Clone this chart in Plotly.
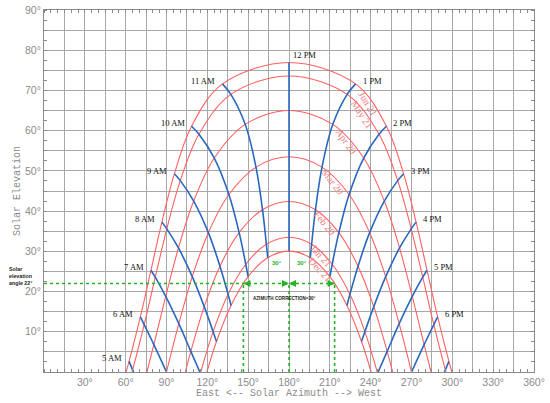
import plotly.graph_objects as go

N = None

# ---------------- data ----------------
DATES = ["Jun 21", "May 21", "Apr 20", "Mar 20", "Feb 20", "Jan 21", "Dec 21"]
HOURS = ["5 AM", "6 AM", "7 AM", "8 AM", "9 AM", "10 AM", "11 AM", "12 PM",
         "1 PM", "2 PM", "3 PM", "4 PM", "5 PM", "6 PM", "7 PM"]
HOUR_LABELED = [True, True, True, True, True, True, True, True,
                True, True, True, True, True, True, False]

# solar azimuth / elevation (degrees) at each hour, per date
AZ_JUN = [62.51, 70.78, 78.60, 86.61, 95.81, 108.41, 131.10, 180.00, 228.90, 251.59, 264.19, 273.39, 281.40, 289.22, 297.49]
EL_JUN = [2.63, 13.69, 25.31, 37.26, 49.30, 61.09, 71.64, 76.95, 71.64, 61.09, 49.30, 37.26, 25.31, 13.69, 2.63]
AZ_MAY = [65.11, 73.61, 81.74, 90.21, 100.14, 113.84, 137.29, 180.00, 222.71, 246.16, 259.86, 269.79, 278.26, 286.39, 294.89]
EL_MAY = [0.52, 11.80, 23.57, 35.58, 47.58, 59.12, 69.03, 73.60, 69.03, 59.12, 47.58, 35.58, 23.57, 11.80, 0.52]
AZ_APR = [N, 80.71, 89.43, 98.79, 109.98, 125.11, 147.81, 180.00, 212.19, 234.89, 250.02, 261.21, 270.57, 279.29, N]
EL_APR = [N, 6.81, 18.81, 30.83, 42.50, 53.20, 61.57, 65.00, 61.57, 53.20, 42.50, 30.83, 18.81, 6.81, N]
AZ_MAR = [N, 90.00, 99.06, 108.95, 120.75, 135.85, 155.74, 180.00, 204.26, 224.15, 239.25, 251.05, 260.94, 270.00, N]
EL_MAR = [N, 0.00, 12.01, 23.70, 34.64, 44.12, 50.94, 53.50, 50.94, 44.12, 34.64, 23.70, 12.01, 0.00, N]
AZ_FEB = [N, N, 107.88, 117.72, 129.28, 143.38, 160.54, 180.00, 199.46, 216.62, 230.72, 242.28, 252.12, N, N]
EL_FEB = [N, N, 5.14, 16.25, 26.31, 34.65, 40.35, 42.40, 40.35, 34.65, 26.31, 16.25, 5.14, N, N]
AZ_JAN = [N, N, N, 124.26, 135.24, 148.25, 163.39, 180.00, 196.61, 211.75, 224.76, 235.74, N, N, N]
EL_JAN = [N, N, N, 10.03, 19.31, 26.79, 31.75, 33.50, 31.75, 26.79, 19.31, 10.03, N, N, N]
AZ_DEC = [N, N, N, 126.72, 137.41, 149.94, 164.35, 180.00, 195.65, 210.06, 222.59, 233.28, N, N, N]
EL_DEC = [N, N, N, 7.59, 16.54, 23.70, 28.40, 30.05, 28.40, 23.70, 16.54, 7.59, N, N, N]

SUNRISE_AZ = [60.33, 64.69, 75.64, 90.00, 103.86, 115.18, 119.67]
SUNSET_AZ = [299.67, 295.31, 284.36, 270.00, 256.14, 244.82, 240.33]
HORIZON_EL = 0.0
# where an hour line meets the horizon (after its last date above it)
HOUR_HORIZON_AZ = [65.7, N, 114.5, N, N, N, N, N, N, N, N, N, 245.5, N, 294.3]

# date labels along the curves
DATE_LABEL_AZ = [238.0, 233.4, 222.0, 211.8, 206.5, 203.3, 202.8]
DATE_LABEL_EL = [66.8, 63.9, 57.3, 47.3, 37.0, 28.9, 25.5]
DATE_LABEL_ANGLE = [59, 58, 55, 52, 50, 48, 47]

# azimuth-correction illustration
MARK_EL = 22.0
MARK_AZ = [146.5, 180.0, 213.5]
CORR_LABEL = ["30°", "30°"]
CORR_LABEL_AZ = [171.4, 189.3]
CORR_LABEL_EL = 27.0

# axes ticks
X_TICKS = [0, 15, 30, 45, 60, 75, 90, 105, 120, 135, 150, 165, 180, 195, 210,
           225, 240, 255, 270, 285, 300, 315, 330, 345, 360]
X_TICK_TEXT = ["", "", "30°", "", "60°", "", "90°", "", "120°", "", "150°", "", "180°", "",
               "210°", "", "240°", "", "270°", "", "300°", "", "330°", "", "360°"]
Y_TICKS = [0, 5, 10, 15, 20, 25, 30, 35, 40, 45, 50, 55, 60, 65, 70, 75, 80, 85, 90]
Y_TICK_TEXT = ["", "", "10°", "", "20°", "", "30°", "", "40°", "", "50°", "", "60°", "",
               "70°", "", "80°", "", "90°"]

# ---------------- styles ----------------
RED = "#ff6060"
DATE_TXT = "#f07c7c"
BLUE = "#2a68c0"
GREEN = "#22b422"
GRID = "#a8a8a8"
FRAME = "#8a8a8a"
TICK_TXT = "#8c8c8c"

DATE_AZ = [AZ_JUN, AZ_MAY, AZ_APR, AZ_MAR, AZ_FEB, AZ_JAN, AZ_DEC]
DATE_EL = [EL_JUN, EL_MAY, EL_APR, EL_MAR, EL_FEB, EL_JAN, EL_DEC]

fig = go.Figure()

# red daily sun paths
for i, d in enumerate(DATES):
    xs = [SUNRISE_AZ[i]]
    ys = [HORIZON_EL]
    for a, e in zip(DATE_AZ[i], DATE_EL[i]):
        if a is not None and e > HORIZON_EL:
            xs.append(a)
            ys.append(e)
    xs.append(SUNSET_AZ[i])
    ys.append(HORIZON_EL)
    fig.add_trace(go.Scatter(x=xs, y=ys, mode="lines", name=d,
                             line=dict(color=RED, width=1.1, shape="spline", smoothing=1.0),
                             hoverinfo="skip"))

annotations = []

# blue hour lines
for j, h in enumerate(HOURS):
    xs, ys = [], []
    for i in range(len(DATES)):
        a, e = DATE_AZ[i][j], DATE_EL[i][j]
        if a is not None:
            xs.append(a)
            ys.append(e)
    if HOUR_HORIZON_AZ[j] is not None:
        xs.append(HOUR_HORIZON_AZ[j])
        ys.append(HORIZON_EL)
    fig.add_trace(go.Scatter(x=xs, y=ys, mode="lines", name=h,
                             line=dict(color=BLUE, width=1.6, shape="spline", smoothing=1.0),
                             hoverinfo="skip"))
    if HOUR_LABELED[j]:
        if h.startswith("12"):
            xa, xsft, ysft = "left", 2, 7
        elif "AM" in h:
            xa, xsft, ysft = "right", -5, 3
        else:
            xa, xsft, ysft = "left", 5, 3
        annotations.append(dict(x=xs[0], y=ys[0], xref="x", yref="y", text=h,
                                showarrow=False, xanchor=xa, yanchor="middle",
                                xshift=xsft, yshift=ysft,
                                font=dict(family="Liberation Serif", size=8.5, color="#111111")))

# date labels
for i, d in enumerate(DATES):
    annotations.append(dict(x=DATE_LABEL_AZ[i], y=DATE_LABEL_EL[i], xref="x", yref="y",
                            text=d, showarrow=False, textangle=DATE_LABEL_ANGLE[i],
                            xanchor="center", yanchor="middle",
                            font=dict(family="Liberation Serif", size=10, color=DATE_TXT)))

# green dotted guide lines
shapes = [dict(type="line", xref="x", yref="y", x0=0, x1=MARK_AZ[-1], y0=MARK_EL, y1=MARK_EL,
               line=dict(color=GREEN, width=1.6, dash="dot"), layer="above")]
for a in MARK_AZ:
    shapes.append(dict(type="line", xref="x", yref="y", x0=a, x1=a, y0=HORIZON_EL, y1=MARK_EL,
                       line=dict(color=GREEN, width=1.6, dash="dot"), layer="above"))

# arrowheads
for k in range(len(MARK_AZ) - 1):
    for tip, tail in ((MARK_AZ[k], 9), (MARK_AZ[k + 1], -9)):
        annotations.append(dict(x=tip, y=MARK_EL, xref="x", yref="y", ax=tail, ay=0,
                                axref="pixel", ayref="pixel", text="", showarrow=True,
                                arrowhead=2, arrowsize=1, arrowwidth=1.4, arrowcolor=GREEN,
                                standoff=0))

for t, a in zip(CORR_LABEL, CORR_LABEL_AZ):
    annotations.append(dict(x=a, y=CORR_LABEL_EL, xref="x", yref="y", text="<b>" + t + "</b>",
                            showarrow=False, font=dict(family="Liberation Sans", size=6, color=GREEN)))

annotations.append(dict(x=(MARK_AZ[0] + MARK_AZ[-1]) / 2 - 3.4, y=18.2, xref="x", yref="y",
                        text="<b>AZIMUTH CORRECTION=30°</b>", showarrow=False,
                        font=dict(family="Liberation Sans", size=4.6, color="#222222")))

annotations.append(dict(x=-0.0755, y=MARK_EL + 1.9, xref="paper", yref="y",
                        text="<b>Solar<br>elevation<br>angle 22°</b>", showarrow=False,
                        xanchor="left", yanchor="middle", align="left",
                        font=dict(family="Liberation Sans", size=5.3, color="#222222")))

fig.update_layout(
    width=550, height=403,
    margin=dict(l=44, r=16, t=10, b=31),
    paper_bgcolor="white", plot_bgcolor="white",
    showlegend=False,
    annotations=annotations, shapes=shapes,
)

fig.update_xaxes(
    range=[0, 360], tickmode="array", tickvals=X_TICKS, ticktext=X_TICK_TEXT,
    showgrid=True, gridcolor=GRID, gridwidth=1, zeroline=False,
    ticks="", showline=True, linecolor=FRAME, linewidth=1, mirror="ticks",
    tickfont=dict(family="Liberation Sans", size=10.5, color=TICK_TXT),
    minor=dict(dtick=5, tick0=0, ticks="inside", ticklen=3, tickcolor=FRAME, showgrid=False),
    title=dict(text="East <-- Solar Azimuth --> West", standoff=2,
               font=dict(family="Liberation Mono", size=10, color=TICK_TXT)),
    automargin=False,
)
fig.update_yaxes(
    range=[0, 90], tickmode="array", tickvals=Y_TICKS, ticktext=Y_TICK_TEXT,
    showgrid=True, gridcolor=GRID, gridwidth=1, zeroline=False,
    ticks="", showline=True, linecolor=FRAME, linewidth=1, mirror="ticks",
    tickfont=dict(family="Liberation Sans", size=10.5, color=TICK_TXT),
    minor=dict(dtick=2.5, tick0=0, ticks="inside", ticklen=3, tickcolor=FRAME, showgrid=False),
    title=dict(text="Solar Elevation", standoff=2,
               font=dict(family="Liberation Mono", size=10, color=TICK_TXT)),
    automargin=False,
)

# remove the browser's default 8px page margin so the figure fills the window exactly
fig.write_html("out.html", config={"displayModeBar": False},
               post_script="document.body.style.margin='0px';")
